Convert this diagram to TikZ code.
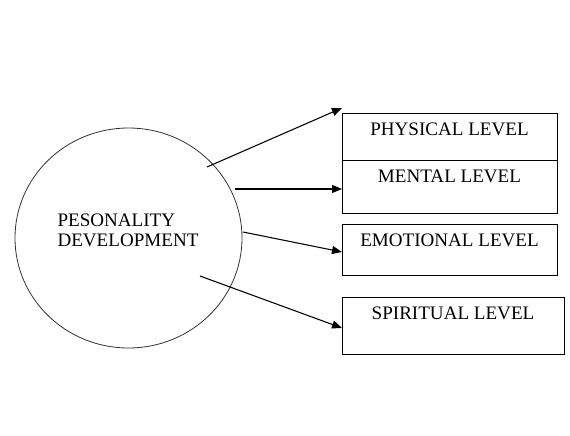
\documentclass[tikz,border=0pt]{standalone}
\usepackage{fontspec}
\setmainfont{Liberation Serif}
\usetikzlibrary{
    positioning,
    shapes.geometric,
    arrows.meta
    }

\begin{document}
\begin{tikzpicture}[x=0.75pt, y=-0.75pt]
\tikzset{core/.style =
        {
            shape=ellipse,
            draw=black!80,
            line width=0.6pt,
            minimum width=170.25pt,
            minimum height=165pt,
            inner sep=0pt
        }
}

\tikzset{level/.style =
        {
            rectangle,
            draw,
            line width=0.6pt,
            inner sep=0pt
        }
}

\tikzset{caption/.style =
        {
            font=\fontsize{14.3}{15}\selectfont,
            inner sep=0pt
        }
}

\tikzset{branch/.style = {
            line width=0.8pt,
            -{Triangle[length=7.5pt, width=6pt]}
        }
}

		\useasboundingbox (0,0) rectangle (570,435);

		\node[core] (dev) at (128.5,238) {};
		\node[caption, align=left] (dev-text) at (128,230) {PESONALITY\\DEVELOPMENT};

		\foreach \name / \txt / \cx / \cy / \w / \h in
			{physical/PHYSICAL LEVEL/449.5/136.5/161.25pt/35.25pt,
				mental/MENTAL LEVEL/449.5/186.5/161.25pt/39.75pt,
				emotional/EMOTIONAL LEVEL/449.5/249.5/161.25pt/38.25pt,
				spiritual/SPIRITUAL LEVEL/453/325.5/166.5pt/42.75pt}
			{
				\node[level, minimum width=\w, minimum height=\h] (\name) at (\cx,\cy) {};
				\node[caption] (\name-text) at ([yshift=-12.75pt]\name.north) {\txt};
			}

		\foreach \i / \sx / \sy / \ex / \ey in
			{1/207/167/342/108,
				2/235/189/342/189,
				3/243/232/342/252,
				4/200/276/342/328}
			{
				\coordinate (out-\i) at (\sx,\sy);
				\coordinate (in-\i) at (\ex,\ey);
				\draw [branch] (out-\i) -- (in-\i);
			}

	\end{tikzpicture}
\end{document}
